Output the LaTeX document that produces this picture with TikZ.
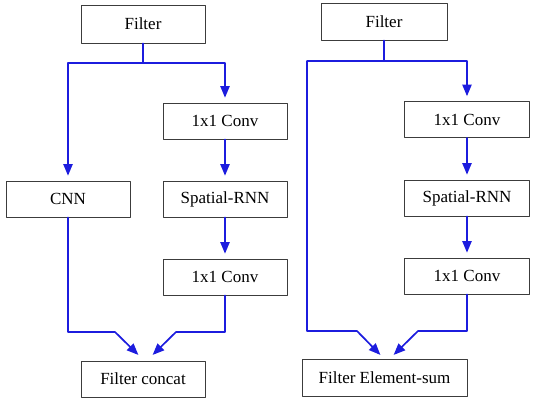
\documentclass[tikz,border=0pt]{standalone}
\usepackage{fontspec}
\setmainfont{Liberation Serif}
\usepackage{pgf,tikz}
\usetikzlibrary{arrows}
\usetikzlibrary{positioning}
\definecolor{linkblue}{RGB}{28,28,222}
\definecolor{boxgray}{RGB}{60,60,60}
\begin{document}
\begin{tikzpicture}[line cap=round,line join=round,>=triangle 45,x=1pt,y=-1pt,
box/.style={draw=boxgray,line width=0.9pt,minimum width=124pt,minimum height=36pt,inner sep=0pt,font=\fontsize{17}{20}\selectfont},
link/.style={color=linkblue,line width=1.7pt},
flow/.style={link,->,shorten >=1pt}]
\useasboundingbox (0,0) rectangle (546,401);
\node[box,minimum height=38pt] (filterL) at (143,24) {Filter};
\node[box] (convAL) at (225,121) {1x1 Conv};
\node[box] (rnnL) at (225,199) {Spatial-RNN};
\node[box] (convBL) at (225,277) {1x1 Conv};
\node[box] (cnnL) at (68,199) {CNN};
\node[box] (concat) at (143,379) {Filter concat};
\node[box,minimum width=126pt,minimum height=37pt] (filterR) at (384,21.5) {Filter};
\node[box,minimum width=125pt] (convAR) at (467,119.5) {1x1 Conv};
\node[box,minimum width=125pt] (rnnR) at (467,198) {Spatial-RNN};
\node[box,minimum width=125pt] (convBR) at (467,276) {1x1 Conv};
\node[box,minimum width=165pt,minimum height=37pt] (sum) at (384.5,377.5) {Filter Element-sum};
\draw[link] (filterL.south) -- (143,63) coordinate (splitL);
\draw[flow,shorten >=5pt] (splitL) -| (cnnL.north);
\draw[flow,shorten >=5pt] (splitL) -| (convAL.north);
\draw[flow,shorten >=5pt] (convAL) -- (rnnL);
\draw[flow,shorten >=5pt] (rnnL) -- (convBL);
\draw[flow] (cnnL.south) |- (115,332) -- ([xshift=-4pt,yshift=5pt]concat.north);
\draw[flow] (convBL.south) |- (176,332) -- ([xshift=9pt,yshift=5pt]concat.north);
\draw[link] (filterR.south) -- (384,61) coordinate (splitR);
\draw[flow,shorten >=5pt] (splitR) -| (convAR.north);
\draw[flow,shorten >=5pt] (convAR) -- (rnnR);
\draw[flow,shorten >=5pt] (rnnR) -- (convBR);
\coordinate (bypass) at (307,331);
\draw[flow] (splitR) -| (bypass) -- (357,331) -- ([xshift=-3.5pt,yshift=3pt]sum.north);
\draw[flow] (convBR.south) |- (418,331) -- ([xshift=8.5pt,yshift=3pt]sum.north);
\end{tikzpicture}
\end{document}
